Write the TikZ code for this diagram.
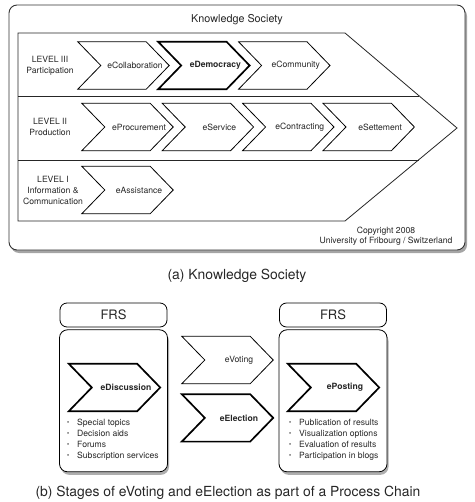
\documentclass[tikz,border=0pt]{standalone}
\usepackage{fontspec}
\setmainfont{TeX Gyre Heros}
\usetikzlibrary{positioning,shadows}
\definecolor{ink}{gray}{0.15}
\newcommand{\itemdot}{\makebox[10pt][l]{\raisebox{0.4pt}{\fontsize{6}{6}\selectfont\textbullet}}}

\begin{document}
\begin{tikzpicture}[x=1pt, y=-1pt, -, node distance = 12pt,
                    every node/.style = {text=ink},
                    chev/.style = {minimum width=68pt, minimum height=47pt, inner sep=0pt,
                                   font=\fontsize{8.6}{10}\selectfont},
                    bchev/.style = {chev, font=\fontsize{8.6}{10}\selectfont\bfseries},
                    chevline/.style = {draw=black, line width=0.8pt, line join=miter},
                    boldline/.style = {draw=black, line width=1.7pt, line join=miter},
                    level/.style = {align=center, font=\fontsize{8.6}{11}\selectfont},
                    items/.style = {align=left, anchor=west, inner sep=0pt,
                                    font=\fontsize{8.6}{11}\selectfont},
                    caption/.style = {font=\fontsize{13.9}{16}\selectfont},
                    frshead/.style = {draw=black, line width=0.8pt, rounded corners=7pt,
                                      minimum width=107pt, minimum height=24pt, inner sep=0pt,
                                      font=\fontsize{13}{15}\selectfont},
                    frsbody/.style = {draw=black, fill=white, line width=0.8pt, rounded corners=8pt,
                                      minimum width=108pt, minimum height=142pt, inner sep=0pt,
                                      drop shadow={shadow xshift=1.5pt, shadow yshift=-3pt,
                                                   opacity=0.45, fill=black!70}}]
\useasboundingbox (0,0) rectangle (474,502);

% (a) knowledge society
\draw[draw=black!80, fill=white, line width=0.9pt, rounded corners=8pt,
      drop shadow={shadow xshift=2pt, shadow yshift=-3pt, opacity=0.5, fill=black!70}]
  (9,5) rectangle (465,250);
\node[font=\fontsize{10.8}{13}\selectfont] (title) at (237,20) {Knowledge Society};

\coordinate (atl) at (18,33);
\coordinate (atr) at (345,33);
\coordinate (atip) at (457,128);
\coordinate (abr) at (345,221);
\coordinate (abl) at (18,221);
\draw[black!85, line width=0.8pt] (atl) -- (atr) -- (atip) -- (abr) -- (abl) -- cycle;
\draw[black!85, line width=0.8pt] (18,96) -- (419.3,96);
\draw[black!85, line width=0.8pt] (18,160) -- (418.5,160);

\node[level] (lvl3) at (50,65.5) {LEVEL III\\Participation};
\node[level] (lvl2) at (50,127) {LEVEL II\\Production};
\node[level] (lvl1) at (53,190) {LEVEL I\\Information \&\\Communication};

\begin{scope}[node distance=0mm and 12pt]
\node[chev] (collab) at (135,65.5) {eCollaboration};
\node[bchev, right= of collab] (democ) {eDemocracy};
\node[chev, right= of democ] (commun) {eCommunity};
\node[chev] (procure) at (139,127) {eProcurement};
\node[chev, right= of procure] (service) {eService};
\node[chev, right= of service] (contract) {eContracting};
\node[chev, right= of contract] (settle) {eSettement};
\node[chev] (assist) at (139,190) {eAssistance};
\end{scope}

\node[align=center, font=\fontsize{8.6}{10.5}\selectfont] (copy) at (386,236)
  {Copyright 2008\\University of Fribourg / Switzerland};
\node[caption] (capa) at (237,276) {(a) Knowledge Society};

% (b) process chain
\node[frshead] (frsl) at (113.5,315) {FRS};
\node[frsbody, below=2pt of frsl.south] (bodyl) {};
\node[frshead] (frsr) at (333,315) {FRS};
\node[frsbody, below=2pt of frsr.south] (bodyr) {};

\node[bchev] (discuss) at (126,387.5) {eDiscussion};
\node[chev] (voting) at (239,360) {eVoting};
\node[bchev, below=10.5pt of voting] (elect) {eElection};
\node[bchev] (posting) at (345,387.5) {ePosting};

\node[items] (listl) at (67,439.5)
  {\itemdot Special topics\\\itemdot Decision aids\\\itemdot Forums\\\itemdot Subscription services};
\node[items] (listr) at (289,439.5)
  {\itemdot Publication of results\\\itemdot Visualization options\\\itemdot Evaluation of results\\\itemdot Participation in blogs};

\node[caption] (capb) at (228,493) {(b) Stages of eVoting and eElection as part of a Process Chain};

% chevron outlines round the named nodes
\foreach \n in {collab,commun,procure,service,contract,settle,assist,voting}
  \draw[chevline] ([xshift=-23pt]\n.north west) -- ([xshift=-23pt]\n.north east) -- (\n.east)
    -- ([xshift=-23pt]\n.south east) -- ([xshift=-23pt]\n.south west) -- (\n.west) -- cycle;
\foreach \n in {democ,discuss,elect,posting}
  \draw[boldline] ([xshift=-23pt]\n.north west) -- ([xshift=-23pt]\n.north east) -- (\n.east)
    -- ([xshift=-23pt]\n.south east) -- ([xshift=-23pt]\n.south west) -- (\n.west) -- cycle;
\end{tikzpicture}
\end{document}
